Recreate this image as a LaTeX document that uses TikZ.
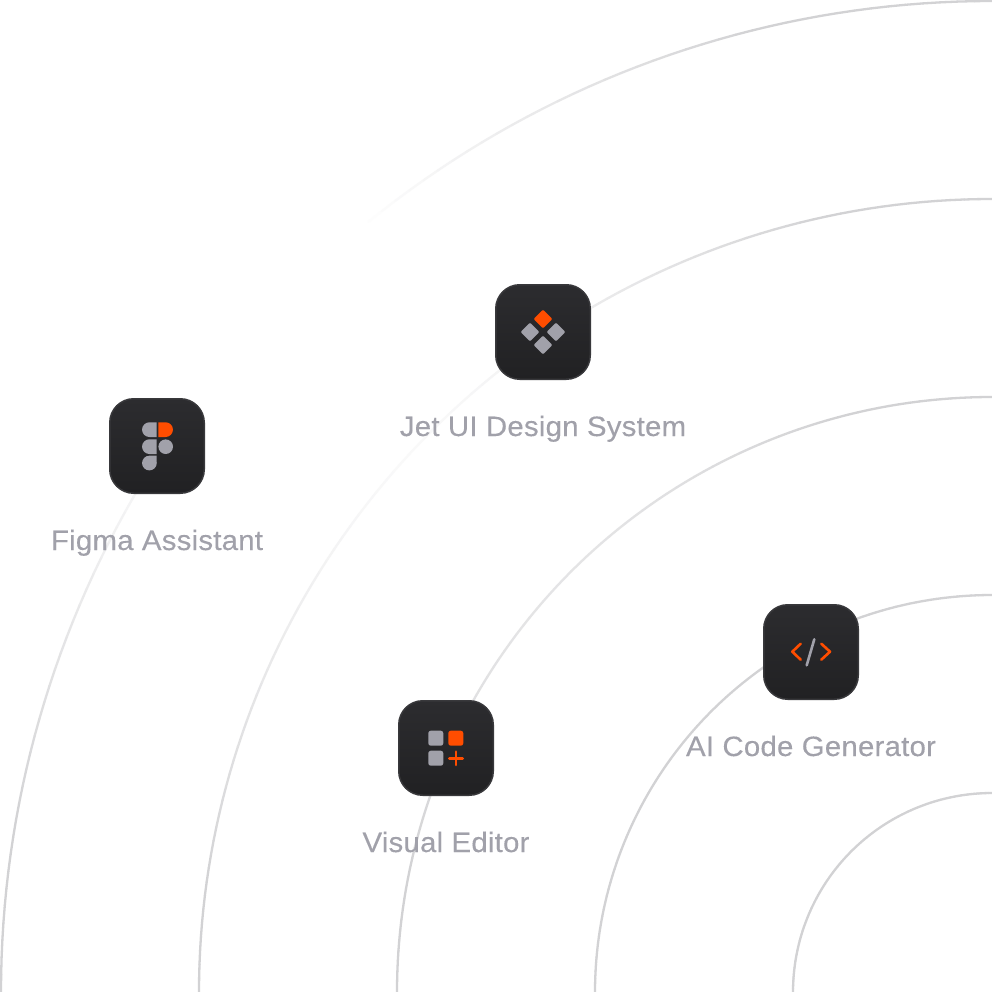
\documentclass[tikz,border=0pt]{standalone}
\usepackage{fontspec}
\setmainfont{Liberation Sans}
\newfontfamily\labelfont[FakeStretch=1.05,LetterSpace=0.8,FakeBold=0.25]{Liberation Sans}
\definecolor{ringcol}{HTML}{D2D2D4}
\definecolor{muted}{HTML}{A1A1AA}
\definecolor{accent}{HTML}{FF4D00}
\definecolor{tiletop}{HTML}{2C2C2F}
\definecolor{tilebot}{HTML}{212123}
\definecolor{tileedge}{HTML}{38383B}
\tikzset{
  tile/.style={rounded corners=24pt,minimum size=94.5pt,inner sep=0pt,line width=1.5pt,draw=tileedge,top color=tiletop,bottom color=tilebot},
  caption/.style={font=\labelfont\fontsize{28}{28}\selectfont,text=muted,inner sep=0pt,anchor=base},
  iconline/.style={line width=2.6pt,line cap=round,line join=round},
}
\begin{document}
\begin{tikzpicture}[x=1pt,y=-1pt]
\useasboundingbox (0,0) rectangle (992,992);
\fill[white] (0,0) rectangle (992,992);
\begin{scope}
\clip (0,0) rectangle (992,992);
\foreach \r in {199,397,595,793,991}{
  \foreach \a in {180,181,...,269}{
    \pgfmathsetmacro\xa{992+\r*cos(\a)}
    \pgfmathsetmacro\ya{992+\r*sin(\a)}
    \pgfmathsetmacro\xb{992+\r*cos(\a+1)}
    \pgfmathsetmacro\yb{992+\r*sin(\a+1)}
    \pgfmathsetmacro\dd{veclen(\xa-270,\ya-330)}
    \pgfmathsetmacro\pct{100*min(1,max(0,(\dd-125)/440))}
    \draw[color=ringcol!\pct!white,line width=2.3pt,line cap=round] (\xa,\ya) -- (\xb,\yb);
  }
}
\end{scope}
% tiles
\node[tile] (figma) at (157,446) {};
\node[tile] (jet) at (543,332) {};
\node[tile] (visual) at (446,748) {};
\node[tile] (code) at (811,652) {};
% captions
\node[caption] (figmalabel) at (157,550) {Figma Assistant};
\node[caption] (jetlabel) at (543,436) {Jet UI Design System};
\node[caption] (visuallabel) at (446,852) {Visual Editor};
\node[caption] (codelabel) at (811,756) {AI Code Generator};
% figma icon
\fill[muted] (156.7,422.3) -- (149.4,422.3) arc[start angle=-90,delta angle=-180,radius=7.35] -- (156.7,437) -- cycle;
\fill[accent] (158.3,422.3) -- (165.6,422.3) arc[start angle=-90,delta angle=180,radius=7.35] -- (158.3,437) -- cycle;
\fill[muted] (156.7,439.3) -- (149.4,439.3) arc[start angle=-90,delta angle=-180,radius=7.35] -- (156.7,454) -- cycle;
\fill[muted] (165.7,446.7) circle[radius=7.3];
\fill[muted] (156.7,455.7) -- (149.4,455.7) arc[start angle=-90,delta angle=-270,radius=7.35] -- cycle;
% diamond icon
\begin{scope}[rounded corners=1.2pt]
\fill[accent] (543,309.6) -- (552.4,319) -- (543,328.4) -- (533.6,319) -- cycle;
\fill[muted] (530,322.6) -- (539.4,332) -- (530,341.4) -- (520.6,332) -- cycle;
\fill[muted] (556,322.6) -- (565.4,332) -- (556,341.4) -- (546.6,332) -- cycle;
\fill[muted] (543,335.6) -- (552.4,345) -- (543,354.4) -- (533.6,345) -- cycle;
\end{scope}
% visual editor icon
\fill[muted,rounded corners=2.5pt] (428.3,730.7) rectangle (443.3,745.7);
\fill[accent,rounded corners=2.5pt] (448.3,730.7) rectangle (463.3,745.7);
\fill[muted,rounded corners=2.5pt] (428.3,750.7) rectangle (443.3,765.7);
\draw[accent,line width=2.6pt,line cap=round] (449.3,758.3) -- (462.7,758.3) (456,751.6) -- (456,765);
% code icon
\draw[accent,iconline] (800.7,643.7) -- (792.3,651.7) -- (800.7,659.7);
\draw[accent,iconline] (821.3,643.7) -- (830,651.7) -- (821.3,659.7);
\draw[muted,iconline] (814.3,639.3) -- (806.7,665.3);
\end{tikzpicture}
\end{document}
